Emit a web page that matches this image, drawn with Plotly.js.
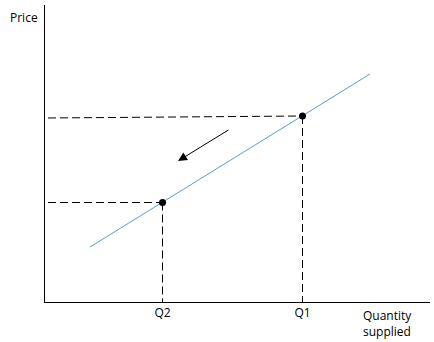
<!DOCTYPE html>
<html>
<head>
<meta charset="utf-8">
<script src="https://cdn.plot.ly/plotly-3.0.1.min.js"></script>
<style>html,body{margin:0;padding:0;background:#fff;}#chart{width:434px;height:342px;}</style>
</head>
<body>
<div id="chart"></div>
<script>
// Supply curve endpoints (quantity, price)
var supplyQ = [45, 325];
var supplyP = [55, 228];
// Equilibrium points: Q1 (original) and Q2 (reduced)
var pointLabels = ["Q1", "Q2"];
var pointQ = [257.5, 117.5];
var pointP = [186, 99.5];
// Arrow showing the movement along the curve (start -> end)
var arrowFrom = [185, 173];
var arrowTo = [133, 141];
var dashStart = 3;

var font = {family: "Open Sans, Noto Sans, sans-serif", size: 12, color: "#000"};

var traces = [];
traces.push({x: supplyQ, y: supplyP, mode: "lines", line: {color: "#5B9BD5", width: 1}, hoverinfo: "skip"});
for (var i = 0; i < pointQ.length; i++) {
  traces.push({x: [dashStart, pointQ[i]], y: [pointP[i] - (i === 0 ? 2 : 0), pointP[i]], mode: "lines",
    line: {color: "#000", width: 1, dash: "8px,4px"}, hoverinfo: "skip"});
  traces.push({x: [pointQ[i], pointQ[i]], y: [pointP[i], 0], mode: "lines",
    line: {color: "#000", width: 1, dash: "8px,4px"}, hoverinfo: "skip"});
}
traces.push({x: pointQ, y: pointP, mode: "markers", marker: {color: "#000", size: 7}, hoverinfo: "skip"});

var layout = {
  width: 434, height: 342,
  margin: {l: 45, r: 4, t: 5, b: 40},
  paper_bgcolor: "#fff", plot_bgcolor: "#fff",
  showlegend: false,
  font: font,
  xaxis: {range: [0, 385], showgrid: false, zeroline: false, showline: true, linecolor: "#000", linewidth: 1,
    tickvals: pointQ, ticktext: pointLabels, ticks: "", tickfont: font, fixedrange: true},
  yaxis: {range: [0, 297], showgrid: false, zeroline: false, showline: true, linecolor: "#000", linewidth: 1,
    showticklabels: false, ticks: "", fixedrange: true},
  annotations: [
    {x: arrowTo[0], y: arrowTo[1], ax: arrowFrom[0], ay: arrowFrom[1], xref: "x", yref: "y", axref: "x", ayref: "y",
      text: "", showarrow: true, arrowhead: 2, arrowsize: 1.8, arrowwidth: 1, arrowcolor: "#000"},
    {x: -0.096, y: 0.957, xref: "paper", yref: "paper", text: "Price", showarrow: false, xanchor: "left", yanchor: "middle", font: font},
    {x: 0.82, y: -0.044, xref: "paper", yref: "paper", text: "Quantity", showarrow: false, xanchor: "left", yanchor: "middle", font: font},
    {x: 0.82, y: -0.101, xref: "paper", yref: "paper", text: "supplied", showarrow: false, xanchor: "left", yanchor: "middle", font: font}
  ]
};
Plotly.newPlot("chart", traces, layout, {displayModeBar: false, staticPlot: true});
</script>
</body>
</html>
